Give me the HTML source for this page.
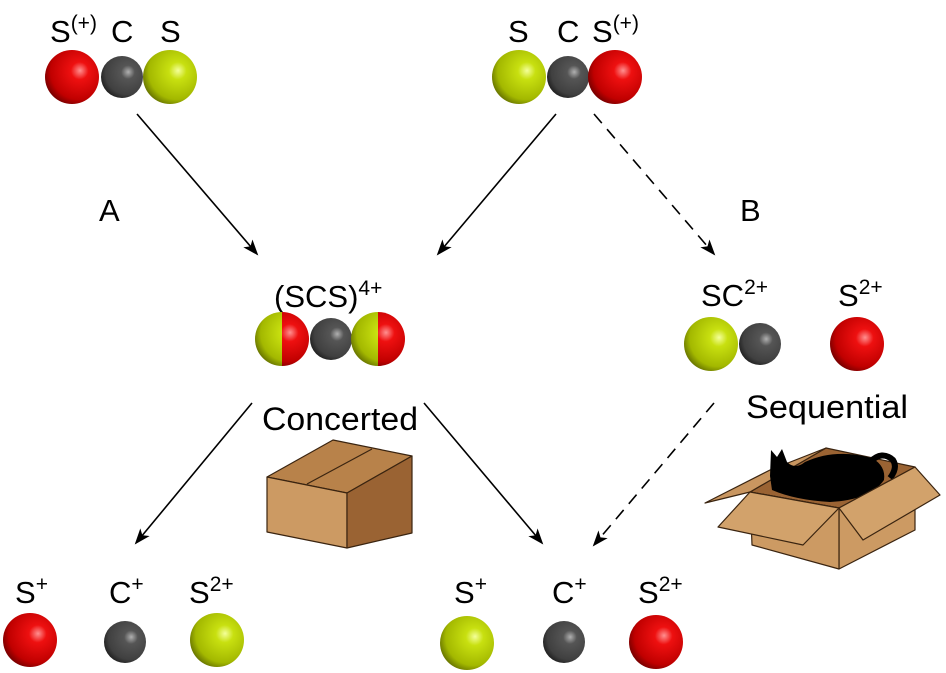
<!DOCTYPE html>
<html><head><meta charset="utf-8"><style>
html,body{margin:0;padding:0;background:#fff;}
svg{display:block;}
text{font-family:"Liberation Sans",sans-serif;fill:#000;}
</style></head><body>
<svg width="946" height="673" viewBox="0 0 946 673" xmlns="http://www.w3.org/2000/svg">
<defs>
<radialGradient id="red" cx="0.62" cy="0.4" r="0.65" fx="0.65" fy="0.38">
<stop offset="0" stop-color="#ff9090"/><stop offset="0.25" stop-color="#ee1010"/><stop offset="0.8" stop-color="#c00000"/><stop offset="1" stop-color="#7a0000"/></radialGradient>
<radialGradient id="grn" cx="0.62" cy="0.4" r="0.65" fx="0.65" fy="0.38">
<stop offset="0" stop-color="#f4ff9a"/><stop offset="0.25" stop-color="#c8e010"/><stop offset="0.8" stop-color="#a3b800"/><stop offset="1" stop-color="#6b7800"/></radialGradient>
<radialGradient id="gry" cx="0.62" cy="0.4" r="0.65" fx="0.65" fy="0.38">
<stop offset="0" stop-color="#b0b0b0"/><stop offset="0.25" stop-color="#555"/><stop offset="0.8" stop-color="#404040"/><stop offset="1" stop-color="#222"/></radialGradient>
<clipPath id="lh1"><rect x="250" y="300" width="32" height="80"/></clipPath>
<clipPath id="rh1"><rect x="282" y="300" width="40" height="80"/></clipPath>
<clipPath id="lh2"><rect x="345" y="300" width="33" height="80"/></clipPath>
<clipPath id="rh2"><rect x="378" y="300" width="40" height="80"/></clipPath>
<marker id="ah" markerWidth="16" markerHeight="12" refX="14" refY="6" orient="auto" markerUnits="userSpaceOnUse">
<path d="M0,0 L16,6 L0,12 L4,6 Z" fill="#000"/></marker>
</defs>

<g font-size="31">
<text x="50" y="42">S<tspan font-size="21" dy="-12">(+)</tspan></text>
<text x="111" y="42">C</text>
<text x="160" y="42">S</text>
<text x="508" y="42">S</text>
<text x="557" y="42">C</text>
<text x="592" y="42">S<tspan font-size="21" dy="-12">(+)</tspan></text>
<text x="99" y="221">A</text>
<text x="740" y="221">B</text>
<text x="274" y="307">(SCS)<tspan font-size="21" dy="-12">4+</tspan></text>
<text x="701" y="306">SC<tspan font-size="21" dy="-12">2+</tspan></text>
<text x="838" y="306">S<tspan font-size="21" dy="-12">2+</tspan></text>
<text x="262" y="430" font-size="32" textLength="156" lengthAdjust="spacingAndGlyphs">Concerted</text>
<text x="746" y="418" font-size="32" textLength="162" lengthAdjust="spacingAndGlyphs">Sequential</text>
<text x="15" y="603">S<tspan font-size="21" dy="-12">+</tspan></text>
<text x="109" y="603">C<tspan font-size="21" dy="-12">+</tspan></text>
<text x="189" y="603">S<tspan font-size="21" dy="-12">2+</tspan></text>
<text x="454" y="603">S<tspan font-size="21" dy="-12">+</tspan></text>
<text x="552" y="603">C<tspan font-size="21" dy="-12">+</tspan></text>
<text x="638" y="603">S<tspan font-size="21" dy="-12">2+</tspan></text>
</g>

<circle cx="122" cy="77" r="21" fill="url(#gry)"/>
<circle cx="72" cy="77" r="27" fill="url(#red)"/>
<circle cx="170" cy="77" r="27" fill="url(#grn)"/>
<circle cx="568" cy="77" r="21" fill="url(#gry)"/>
<circle cx="519" cy="77" r="27" fill="url(#grn)"/>
<circle cx="615" cy="77" r="27" fill="url(#red)"/>

<circle cx="331" cy="339" r="21" fill="url(#gry)"/>
<circle cx="282" cy="339" r="27" fill="url(#grn)" clip-path="url(#lh1)"/>
<circle cx="282" cy="339" r="27" fill="url(#red)" clip-path="url(#rh1)"/>
<circle cx="378" cy="339" r="27" fill="url(#grn)" clip-path="url(#lh2)"/>
<circle cx="378" cy="339" r="27" fill="url(#red)" clip-path="url(#rh2)"/>

<circle cx="760" cy="344" r="21" fill="url(#gry)"/>
<circle cx="711" cy="344" r="27" fill="url(#grn)"/>
<circle cx="857" cy="344" r="27" fill="url(#red)"/>

<circle cx="30" cy="640" r="27" fill="url(#red)"/>
<circle cx="125" cy="642" r="21" fill="url(#gry)"/>
<circle cx="217" cy="640" r="27" fill="url(#grn)"/>
<circle cx="467" cy="643" r="27" fill="url(#grn)"/>
<circle cx="564" cy="642" r="21" fill="url(#gry)"/>
<circle cx="656" cy="642" r="27" fill="url(#red)"/>

<g stroke="#000" stroke-width="1.6" fill="none" marker-end="url(#ah)">
<line x1="137" y1="114" x2="257" y2="254"/>
<line x1="556" y1="114" x2="438" y2="254"/>
<line x1="594" y1="114" x2="714" y2="254" stroke-dasharray="12,8"/>
<line x1="252" y1="403" x2="136" y2="543"/>
<line x1="424" y1="403" x2="542" y2="543"/>
<line x1="714" y1="403" x2="594" y2="545" stroke-dasharray="12,8"/>
</g>

<g stroke="#3a2410" stroke-width="1.2" stroke-linejoin="round">
<polygon points="267,477 333,440 412,456 347,493" fill="#b8824a"/>
<polygon points="267,477 347,493 347,548 267,532" fill="#cc9a63"/>
<polygon points="347,493 412,456 412,533 347,548" fill="#9a6333"/>
<line x1="307" y1="484" x2="372" y2="449"/>
</g>

<g stroke="#3a2410" stroke-width="1.2" stroke-linejoin="round">
<polygon points="750,492 826,448 915,467 839,508" fill="#9a6333"/>
<polygon points="705,503 770,470 826,448 750,492" fill="#c99660"/>
<path d="M770,476 L771,450 L777,457 L782,449 L787,462 Q795,470 805,462 Q835,448 872,458 Q886,466 884,480 Q870,500 830,502 Q795,500 772,490 Z" fill="#000" stroke="none"/>
<path d="M870,462 Q882,450 893,460 Q898,468 890,478" stroke="#000" stroke-width="6" fill="none"/>
<polygon points="839,508 915,470 915,530 839,569" fill="#cc9a63"/>
<polygon points="750,492 839,508 839,569 752,545" fill="#cc9a63"/>
<polygon points="750,492 718,527 803,545 839,508" fill="#d2a26b"/>
<polygon points="839,508 915,467 940,495 863,540" fill="#d2a26b"/>
</g>
</svg>
</body></html>
